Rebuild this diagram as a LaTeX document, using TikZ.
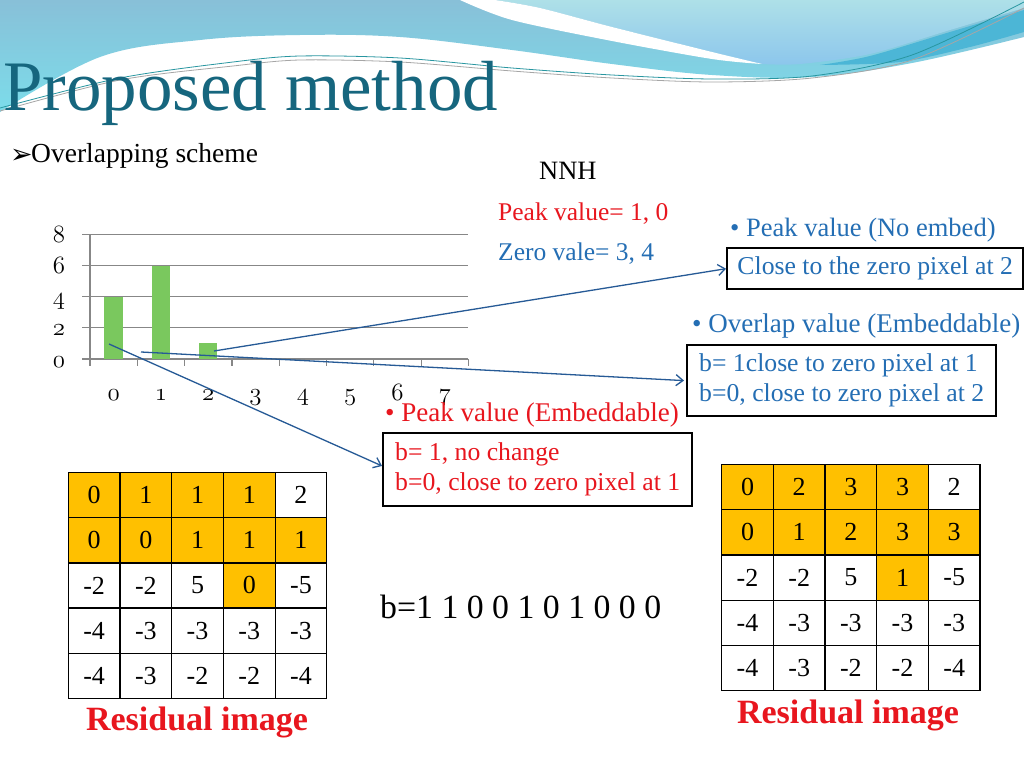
\documentclass[tikz,border=0pt]{standalone}
\usepackage{fontspec}
\setmainfont{Liberation Serif}
\newfontfamily\dejavu{DejaVu Sans}
\usetikzlibrary{arrows.meta,calc}
\definecolor{titlec}{RGB}{22,102,126}
\definecolor{redc}{RGB}{232,22,30}
\definecolor{bluec}{RGB}{36,110,180}
\definecolor{arrowc}{RGB}{38,90,150}
\definecolor{barc}{RGB}{122,200,94}
\definecolor{gridc}{RGB}{135,135,135}
\definecolor{cellc}{RGB}{255,192,0}
\definecolor{skyA}{RGB}{136,192,216}
\definecolor{skyB}{RGB}{124,220,234}
\definecolor{skyC}{RGB}{174,224,232}
\definecolor{skyD}{RGB}{140,198,236}
\definecolor{skyE}{RGB}{76,182,214}
\definecolor{linec}{RGB}{40,150,160}
\newcommand{\osnum}[1]{{\usefont{OML}{lmm}{b}{it}#1}}
\newcommand{\fsz}[1]{\fontsize{#1}{#1}\selectfont}
\begin{document}
\begin{tikzpicture}[x=1pt,y=-1pt,
  txt/.style={inner sep=0pt,anchor=base west},
  bx/.style={draw=black,line width=2.4pt,anchor=north west,inner xsep=0pt,inner ysep=0pt,align=left},
  arr/.style={draw=arrowc,line width=1.3pt,-{Straight Barb[length=7pt,width=11pt]}},
  gridln/.style={draw=gridc,line width=1.2pt},
  cell/.style={draw=black,line width=1.2pt,minimum width=51.7pt,minimum height=45.1pt,inner sep=0pt,font=\fsz{26}},
  resid/.style={text=redc,font=\fsz{34}\bfseries,inner sep=0pt,anchor=base},
  axlab/.style={inner sep=0pt,anchor=base,font=\fsz{27}}
]
\useasboundingbox (0,0) rectangle (1024,768);
\fill[white] (0,0) rectangle (1024,768);
% background waves
\shade[top color=skyA,bottom color=skyB] (0,0) -- (1024,0) -- plot[smooth,tension=0.6] coordinates {(1024,37) (912,63) (812,77) (712,75) (612,64) (512,50) (400,37) (300,35) (200,40) (100,57) (0,112)} -- cycle;
\shade[top color=skyC,bottom color=skyD] (495,0) -- (1024,0) -- plot[smooth] coordinates {(1024,8) (950,30) (870,54) (800,64) (762,64)} -- plot[smooth] coordinates {(762,64) (712,52) (612,27) (540,8) (495,0)} -- cycle;
\fill[white] plot[smooth] coordinates {(495,0) (540,8) (612,27) (712,52) (762,64)} -- plot[smooth] coordinates {(762,64) (712,59) (612,41) (512,20) (460,0)} -- cycle;
\fill[skyE] plot[smooth] coordinates {(1024,10) (950,32) (870,56) (820,65)} -- plot[smooth] coordinates {(820,65) (900,62) (970,47) (1024,32)} -- cycle;
\draw[linec,line width=0.8pt] plot[smooth] coordinates {(0,108) (120,78) (233,62) (300,56) (400,58) (512,68) (612,75) (712,79) (812,76) (912,55) (1024,2)};
\draw[gray!70,line width=0.8pt] plot[smooth] coordinates {(0,111) (120,80) (233,66) (300,60) (400,62) (512,71) (612,78) (712,82) (812,78) (912,60) (1024,8)};
% title
\node[txt,text=titlec,font=\fsz{71}] (title) at (3,110) {Proposed method};
\node[txt,font=\dejavu\fsz{27}] (arrowbullet) at (10,163) {➢};
\node[txt,font=\fsz{27.5}] (scheme) at (31,162) {Overlapping scheme};
% chart
\foreach \v in {2,4,6,8} \draw[gridln] (82,{359-15.6*\v}) -- (468,{359-15.6*\v});
\foreach \i in {0,...,8} \draw[gridln] ({90+47.3*\i},359) -- ({90+47.3*\i},366);
\draw[gridln] (82,359) -- (468,359);
\draw[gridln] (90,234) -- (90,359);
\fill[barc] (104.3,359) rectangle (122.7,296.6);
\fill[barc] (151.7,359) rectangle (170,265.6);
\fill[barc] (199,359) rectangle (217.3,343.4);
\foreach \v in {0,2,...,8} \node[axlab] (ylab\v) at (59,{367-15.6*\v}) {\osnum{\v}};
\foreach \i in {0,...,7} \node[axlab] (xlab\i) at ({90+47.3*(\i+0.5)},400) {\osnum{\i}};
% right texts
\node[txt,font=\fsz{26.5}] (nnh) at (539,179) {NNH};
\node[txt,text=redc,font=\fsz{25.5}] (peakv) at (498,220) {Peak value= 1, 0};
\node[txt,text=bluec,font=\fsz{25.5}] (zerov) at (498,260) {Zero vale= 3, 4};
\node[txt,text=bluec,font=\fsz{26.5}] (pkne) at (730,236) {• Peak value (No embed)};
\node[bx,text=bluec,font=\fsz{25.7},minimum width=296pt,minimum height=41pt] (boxA) at (726,247) {Close to the zero pixel at 2};
\node[txt,text=bluec,font=\fsz{27}] (ovl) at (692,332) {• Overlap value (Embeddable)};
\node[bx,text=bluec,font=\fontsize{25.7}{30}\selectfont,minimum width=309pt,minimum height=71pt] (boxB) at (686,344) {b= 1close to zero pixel at 1\\b=0, close to zero pixel at 2};
\node[txt,text=redc,font=\fsz{27}] (pke) at (385,421) {• Peak value (Embeddable)};
\node[bx,text=redc,font=\fontsize{25.7}{30}\selectfont,minimum width=309pt,minimum height=73pt] (boxC) at (382,432) {b= 1, no change\\b=0, close to zero pixel at 1};
\node[txt,font=\fsz{33.8}] (bits) at (380,618) {b=1 1 0 0 1 0 1 0 0 0};
% tables
\foreach \row [count=\r from 0] in {{0,1,1,1,2},{0,0,1,1,1},{-2,-2,5,0,-5},{-4,-3,-3,-3,-3},{-4,-3,-2,-2,-4}}{
  \foreach \val [count=\c from 0] in \row {
    \pgfmathtruncatemacro{\hl}{or(\r==1,or(and(\r==0,\c<4),and(\r==2,\c==3)))}
    \ifnum\hl=1 \def\cf{cellc}\else\def\cf{white}\fi
    \node[cell,fill=\cf] (L\r\c) at ({68.3+51.7*(\c+0.5)},{472.7+45.1*(\r+0.5)}) {\val};
  }
}
\foreach \row [count=\r from 0] in {{0,2,3,3,2},{0,1,2,3,3},{-2,-2,5,1,-5},{-4,-3,-3,-3,-3},{-4,-3,-2,-2,-4}}{
  \foreach \val [count=\c from 0] in \row {
    \pgfmathtruncatemacro{\hl}{or(\r==1,or(and(\r==0,\c<4),and(\r==2,\c==3)))}
    \ifnum\hl=1 \def\cf{cellc}\else\def\cf{white}\fi
    \node[cell,fill=\cf,minimum width=51.66pt,minimum height=45.3pt] (R\r\c) at ({721.7+51.66*(\c+0.5)},{464.3+45.3*(\r+0.5)}) {\val};
  }
}
\node[resid] (residL) at (197,730) {Residual image};
\node[resid] (residR) at (848,723) {Residual image};
% arrows
\coordinate (s1) at (109,344);
\coordinate (s2) at (141,352);
\coordinate (s3) at (214,351);
\draw[arr] (s1) -- ($(boxC.north west)!0.45!(boxC.south west)$);
\draw[arr,shorten >=2pt] (s2) -- (boxB.west);
\draw[arr] (s3) -- (boxA.west);
\end{tikzpicture}
\end{document}
